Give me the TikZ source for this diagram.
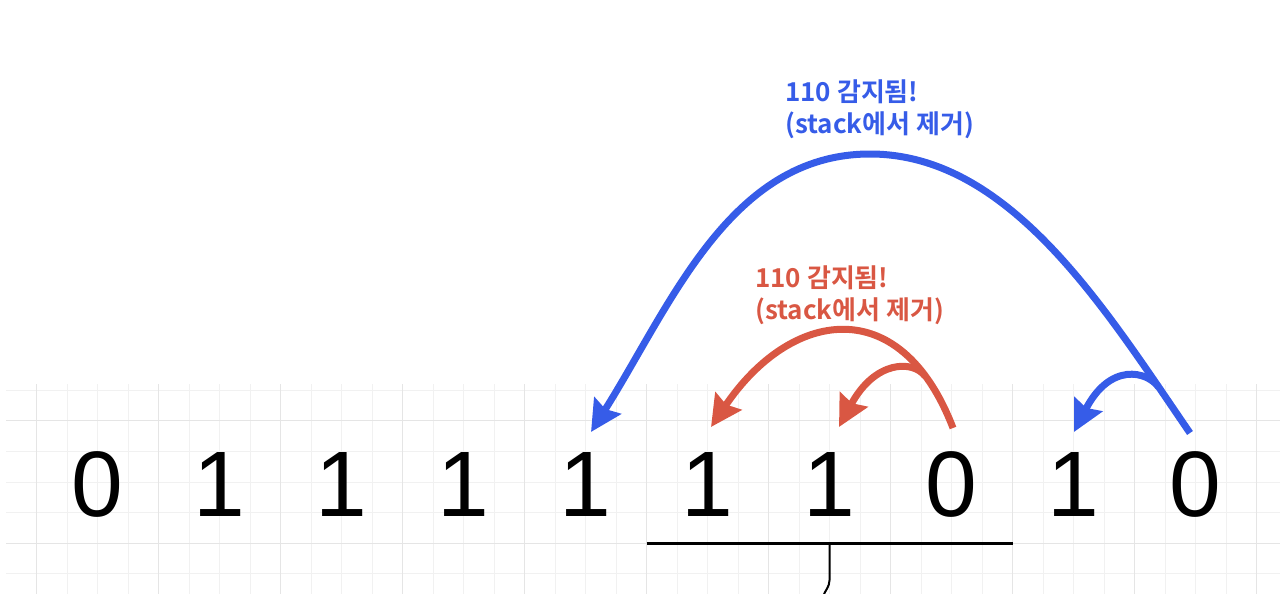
\documentclass[tikz,border=0pt]{standalone}
\usepackage{fontspec}
\newfontfamily\digitfont{Liberation Sans}
\newfontfamily\krfont{Noto Sans CJK KR}[BoldFont={Noto Sans CJK KR Bold}]
\usetikzlibrary{arrows.meta,calc}
\definecolor{markblue}{RGB}{54,92,232}
\definecolor{markred}{RGB}{217,87,67}
\definecolor{gridminor}{RGB}{241,241,241}
\definecolor{gridmajor}{RGB}{229,229,229}

\begin{document}
\begin{tikzpicture}[x=1pt,y=-1pt,
    bit/.style={font=\digitfont\fontsize{93}{93}\selectfont, inner sep=0pt, anchor=base},
    hop/.style={line width=7pt, -{Stealth[length=31pt,width=31pt,inset=4pt]}},
    note/.style={font=\krfont\bfseries\fontsize{26}{32}\selectfont, align=left, anchor=north west, inner sep=0pt}]
  \useasboundingbox (0,0) rectangle (1280,594);
  % grid paper
  \foreach \k in {0,...,40}
    \draw[gridminor, line width=1pt] (36.5+30.5*\k,384) -- (36.5+30.5*\k,594);
  \foreach \k in {-1,...,5}
    \draw[gridminor, line width=1pt] (6,420.7+30.65*\k) -- (1280,420.7+30.65*\k);
  \foreach \k in {0,...,10}
    \draw[gridmajor, line width=1.3pt] (36.5+122*\k,384) -- (36.5+122*\k,594);
  \foreach \y in {420.7,543.3}
    \draw[gridmajor, line width=1.3pt] (6,\y) -- (1280,\y);

  % bits
  \foreach \b [count=\i from 0] in {0,1,1,1,1,1,1,0,1,0}
    \node[bit] (d\i) at (97.5+122*\i,516.7) {\b};

  % brace under 110
  \coordinate (brl) at (646.5,543.3);
  \coordinate (brr) at (1012.5,543.3);
  \coordinate (brm) at (829.5,543.3);
  \draw[line width=3pt] (brl) -- (brr);
  \draw[line width=2pt] (brm) -- ++(0,37) to[out=-90,in=75] (823,597);

  % arrow ends
  \coordinate (from9) at (1190,433);
  \coordinate (from9b) at (1158.6,387.2);
  \coordinate (from7) at (953,428);
  \coordinate (from7b) at (925,376);
  \coordinate (to4) at (591,432);
  \coordinate (to5) at (711,427);
  \coordinate (to6) at (839,427);
  \coordinate (to8) at (1074,432);

  % red: first 110
  \draw[hop, markred] (from7b) .. controls (913,360) and (875,360) .. (to6);
  \draw[hop, markred] (from7) .. controls (900,290) and (790,310) .. (to5);
  \node[note, text=markred] (rlabel) at (755,266) {110 감지됨!\\(stack에서 제거)};

  % blue: second 110
  \draw[hop, markblue] (from9b) .. controls (1147,371) and (1110,362) .. (to8);
  \draw[hop, markblue] (from9) .. controls (1105,309) and (1010,154) .. (870,154)
    .. controls (730,154) and (671,305) .. (to4);
  \node[note, text=markblue] (blabel) at (785,80) {110 감지됨!\\(stack에서 제거)};
\end{tikzpicture}
\end{document}
